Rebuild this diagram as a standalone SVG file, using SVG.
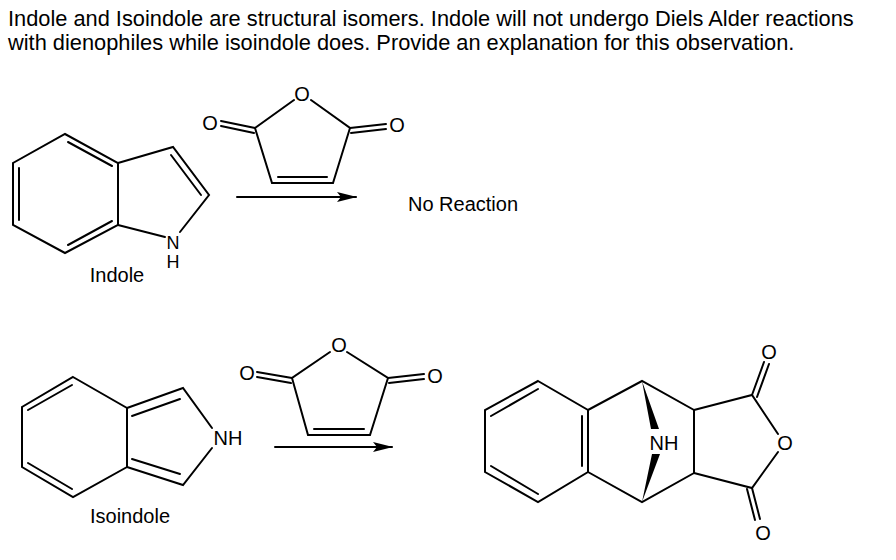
<svg xmlns="http://www.w3.org/2000/svg" width="896" height="560" viewBox="0 0 896 560">
<style>
.b{stroke:#000;stroke-width:2;fill:none;stroke-linecap:round}
text{font-family:"Liberation Sans",Arial,sans-serif;font-size:20px;fill:#000}
.t{font-size:21.8px}
.a{text-anchor:middle}
.s{font-size:18px}
</style>
<defs><marker id="ah" markerWidth="20" markerHeight="10" refX="19" refY="5" orient="auto" markerUnits="userSpaceOnUse"><path d="M0,0L20,5L0,10L4,5z" fill="#000"/></marker></defs>
<rect width="896" height="560" fill="#fff"/>
<text class="t" x="8" y="26">Indole and Isoindole are structural isomers. Indole will not undergo Diels Alder reactions</text>
<text class="t" x="8" y="50">with dienophiles while isoindole does. Provide an explanation for this observation.</text>

<g id="indole">
<path class="b" d="M65,134L118,163L118,225L65,253L13,225L13,163Z"/>
<path class="b" d="M68,142L112,166M19,168L19,220M68,245L112,221"/>
<path class="b" d="M118,163L173,147L209,195L180,232M165,237L118,225"/>
<path class="b" d="M171,155L201,195"/>
<text class="a s" x="173" y="249">N</text><text class="a s" x="173" y="268">H</text>
<text class="a" x="117" y="282">Indole</text>
</g>

<g id="maleic1">
<path class="b" d="M294,100L255,128L272,183L333,183L350,128L311,100"/>
<path class="b" d="M278,177L327,177"/>
<path class="b" d="M255,128L221,121M254,133L221,126M350,128L386,124M351,133L386,129"/>
<text class="a" x="302" y="101">O</text><text class="a" x="210" y="130">O</text><text class="a" x="397" y="132">O</text>
</g>

<g id="isoindole">
<path class="b" d="M73,377L127,408L127,467L73,497L22,467L22,407Z"/>
<path class="b" d="M72,385L28,410M28,463L72,489"/>
<path class="b" d="M127,408L183,388L212,428M212,448L183,485L127,467"/>
<path class="b" d="M132,416L180,399M132,459L180,474"/>
<text class="a" x="228" y="445">NH</text>
<text class="a" x="130" y="523">Isoindole</text>
</g>

<g id="maleic2">
<path class="b" d="M330,352L292,378L308,435L370,435L388,378L347,352"/>
<path class="b" d="M314,429L364,429"/>
<path class="b" d="M292,378L257,372M291,383L257,377M388,378L424,374M389,383L424,379"/>
<text class="a" x="339" y="352">O</text><text class="a" x="247" y="380">O</text><text class="a" x="435" y="383">O</text>
</g>

<g id="noreaction"><text x="408" y="211">No Reaction</text></g>

<g id="product">
<path class="b" d="M538,381L588,410L588,472L538,502L485,472L485,410Z"/>
<path class="b" d="M538,389L491,416M582,416L582,466M491,466L538,494"/>
<path class="b" d="M588,410L642,381L694,410L694,473L642,502L588,472"/>
<path class="b" d="M694,410L752,395L778,434M778,452L752,488L694,473"/>
<path class="b" d="M752,395L764,362M757,397L769,364M752,488L760,519M747,489L755,520"/>
<path d="M642,381L651,429L659,429Z M642,502L652,454L660,454Z" fill="#000"/>
<text class="a" x="664" y="450">NH</text>
<text class="a" x="785" y="450">O</text>
<text class="a" x="769" y="359">O</text>
<text class="a" x="763" y="540">O</text>
</g>

<g id="connectors">
<line class="b" x1="237" y1="197" x2="356" y2="197" marker-end="url(#ah)"/>
<line class="b" x1="275" y1="447" x2="392" y2="447" marker-end="url(#ah)"/>
</g>
</svg>
